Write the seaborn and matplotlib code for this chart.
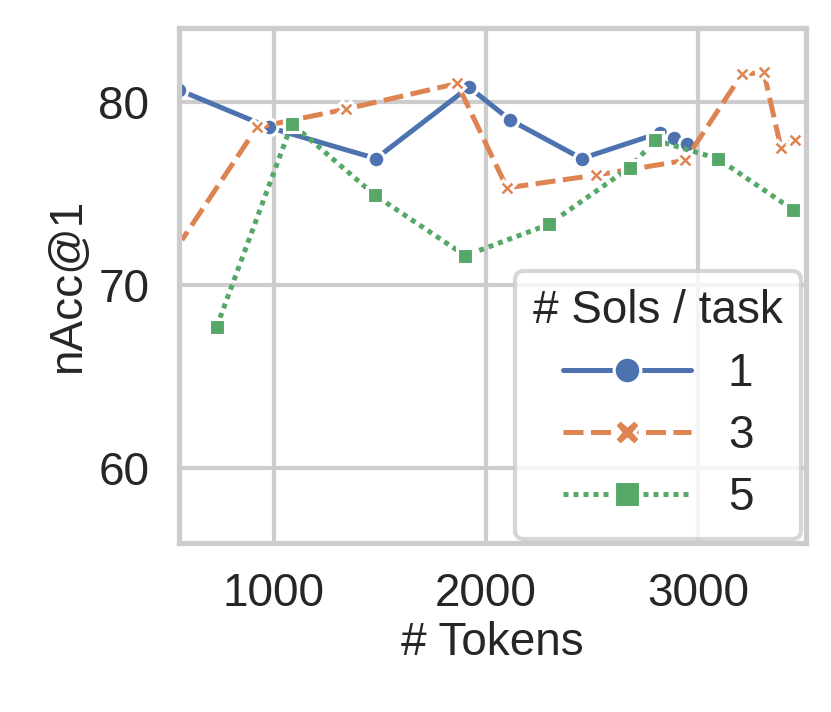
import pandas as pd
import matplotlib
matplotlib.use("Agg")
import matplotlib.pyplot as plt
import seaborn as sns

# values
tok_1 = [551, 977, 1482, 1920, 2116, 2452, 2820, 2890, 2950]
acc_1 = [80.65, 78.6, 76.9, 80.8, 79.0, 76.9, 78.3, 78.0, 77.7]
tok_3 = [540, 920, 1340, 1865, 2100, 2522, 2940, 3208, 3312, 3392, 3458]
acc_3 = [72.0, 78.6, 79.6, 81.0, 75.3, 76.0, 76.8, 81.5, 81.6, 77.5, 77.9]
tok_5 = [730, 1085, 1477, 1903, 2296, 2678, 2800, 3094, 3450]
acc_5 = [67.7, 78.8, 74.9, 71.6, 73.3, 76.4, 77.9, 76.9, 74.1]

df = pd.concat([
    pd.DataFrame({"tok": tok_1, "acc": acc_1, "sols": "1"}),
    pd.DataFrame({"tok": tok_3, "acc": acc_3, "sols": "3"}),
    pd.DataFrame({"tok": tok_5, "acc": acc_5, "sols": "5"}),
])

sns.set_theme(style="whitegrid")
plt.rcParams["font.family"] = ["Liberation Sans", "DejaVu Sans"]
plt.rcParams.update({"font.size": 11, "axes.labelsize": 11,
                     "xtick.labelsize": 11, "ytick.labelsize": 11,
                     "legend.fontsize": 11, "legend.title_fontsize": 11})

fig, ax = plt.subplots(figsize=(831 / 300, 712 / 300), dpi=300)
sns.lineplot(data=df, x="tok", y="acc", hue="sols", style="sols",
             markers=["o", "X", "s"], dashes=True, errorbar=None,
             markersize=4, linewidth=1.2, ax=ax)
ax.set_xlim(551, 3511)
ax.set_ylim(55.9, 84.0)
ax.set_xticks([1000, 2000, 3000])
ax.set_yticks([60, 70, 80])
ax.set_xlabel("# Tokens", labelpad=1)
ax.set_ylabel("nAcc@1", labelpad=2)
ax.tick_params(pad=1)
leg = ax.legend(title="# Sols / task", loc="lower right", borderaxespad=0.1,
                markerscale=1.6, handlelength=2.8, labelspacing=0.4)
plt.subplots_adjust(left=0.215, right=0.97, bottom=0.237, top=0.96)
fig.savefig("out.png", dpi=300)
